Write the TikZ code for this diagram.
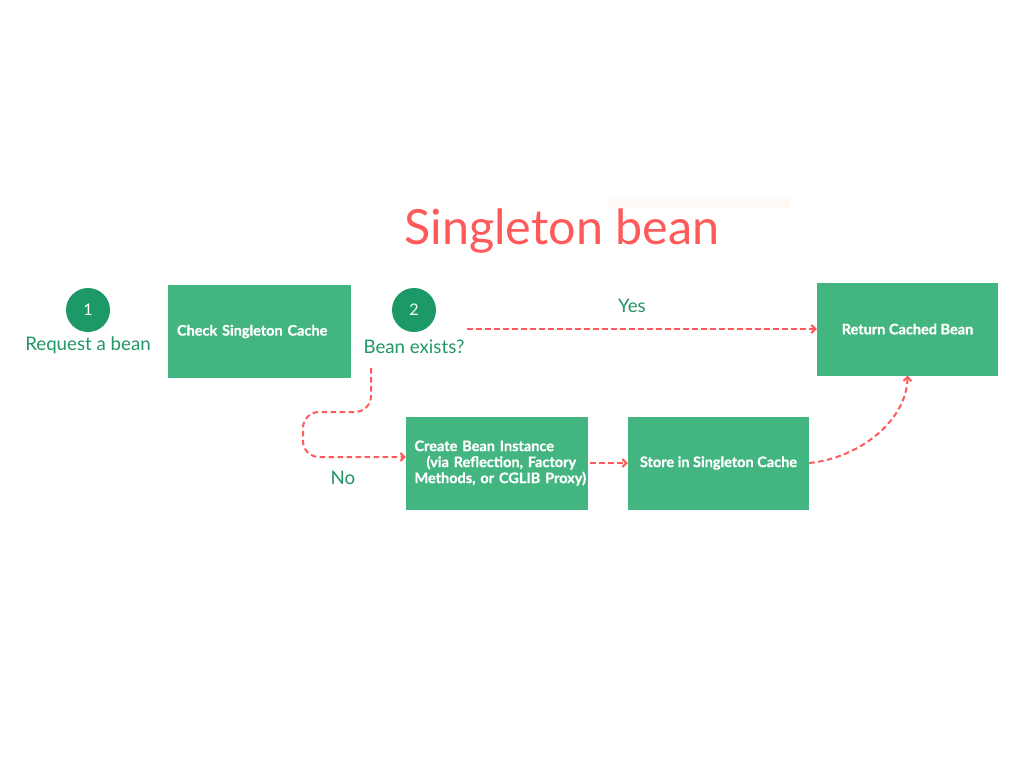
\documentclass[tikz,border=0pt]{standalone}
\usepackage{fontspec}
\setmainfont{Lato}
\newfontfamily\boxfont{Lato}[BoldFeatures={FakeBold=0.8}]
\usetikzlibrary{arrows.meta}
\definecolor{boxgreen}{RGB}{67,181,129}
\definecolor{darkgreen}{RGB}{29,152,103}
\definecolor{labelgreen}{RGB}{34,150,100}
\definecolor{arrowred}{RGB}{255,90,90}
\definecolor{faint}{RGB}{255,250,246}
\begin{document}
\begin{tikzpicture}[x=1pt,y=-1pt,
  stepbox/.style={fill=boxgreen, draw=none, minimum width=183pt, minimum height=93pt, inner sep=0pt, text=white, font=\boxfont\fontsize{14.5}{16}\selectfont\bfseries},
  numcircle/.style={circle, fill=darkgreen, minimum size=44pt, inner sep=0pt, text=white, font=\fontsize{16}{18}\selectfont},
  lbl/.style={text=labelgreen, font=\fontsize{18.7}{22}\selectfont, inner sep=0pt},
  flow/.style={draw=arrowred, line width=2pt, dash pattern=on 5.5pt off 3.5pt, -{Straight Barb[length=4pt,width=8pt]}},
]
\useasboundingbox (0,0) rectangle (1024,768);
\fill[white] (0,0) rectangle (1024,768);
\fill[faint] (608,198) rectangle (790,208);
\node[text=arrowred, font=\fontsize{48.5}{56}\selectfont, anchor=base, inner sep=0pt] (title) at (562,244) {Singleton bean};

\node[numcircle] (c1) at (88,310) {1};
\node[lbl] (l1) at (88,345) {Request a bean};
\node[stepbox, text width=165pt, align=left] (check) at (259.5,331.5) {Check Singleton Cache};
\node[numcircle] (c2) at (414,310) {2};
\node[lbl] (l2) at (414,347) {Bean exists?};
\node[stepbox, minimum width=181pt] (ret) at (907.5,329) {Return Cached Bean};
\node[stepbox, minimum width=182pt, text width=165pt, align=left] (create) at (497,463) {Create Bean Instance\\\hspace*{12pt}(via Reflection, Factory\\Methods,~or~CGLIB~Proxy)};
\node[stepbox, minimum width=181pt] (store) at (718.5,463) {Store in Singleton Cache};

\coordinate (yesstart) at (467,329);
\draw[flow] (yesstart) -- (ret.west);
\node[lbl] (yes) at (632,306) {Yes};

\draw[flow] ([xshift=2pt]create.east) -- (store.west);
\draw[flow] (store.east) .. controls (860,458) and (907,420) .. (ret.south);

\coordinate (nostart) at (371,368);
\draw[flow, rounded corners=16pt] (nostart) -- (371,412) -- (303,412) -- (303,457) -- ([yshift=6pt]create.west);
\node[lbl] (no) at (343,478) {No};
\end{tikzpicture}
\end{document}
